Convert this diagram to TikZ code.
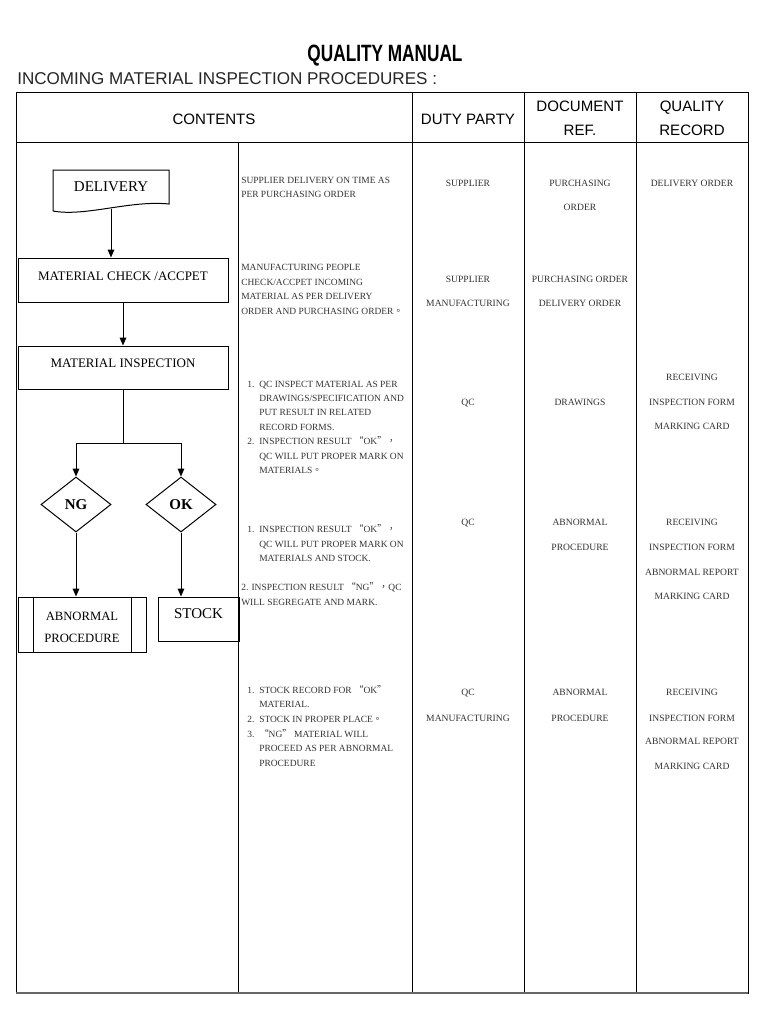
\documentclass[tikz,border=0pt]{standalone}
\usepackage{fontspec}
\setmainfont{Liberation Serif}
\newfontfamily\arial{Liberation Sans}
\newfontfamily\cjk{Noto Sans CJK TC}
\usetikzlibrary{shapes.geometric,arrows.meta}
\newcommand\numb[1]{\makebox[9pt][l]{#1}}
\begin{document}
\begin{tikzpicture}[x=0.75pt,y=-0.75pt,
  tline/.style={line width=0.75pt},
  hdr/.style={font=\arial\fontsize{11.3}{13}\selectfont, anchor=base, inner sep=0},
  desc/.style={font=\fontsize{7.1}{8}\selectfont, anchor=base west, inner sep=0, text=black!80},
  col/.style={font=\fontsize{7.2}{8}\selectfont, anchor=base, inner sep=0, text=black!80},
  fbox/.style={draw, line width=0.75pt, inner sep=0, font=\fontsize{9.75}{11}\selectfont},
  dia/.style={draw, diamond, line width=0.75pt, inner sep=0, minimum width=52.5pt, minimum height=41.25pt, font=\bfseries\fontsize{11.25}{12}\selectfont},
  arr/.style={line width=0.75pt, -{Triangle[length=6pt,width=5pt]}},
]
\useasboundingbox (0,0) rectangle (768,1024);
\fill[white] (0,0) rectangle (768,1024);

% titles
\node[anchor=base, inner sep=0, font=\arial\bfseries\fontsize{17.7}{20}\selectfont] (title) at (385,61.5) {\scalebox{0.73}[1]{QUALITY MANUAL}};
\node[anchor=base west, inner sep=0, font=\arial\fontsize{12.8}{14}\selectfont, text=black!85] (subtitle) at (17,84.5) {INCOMING MATERIAL INSPECTION PROCEDURES :};

% table
\draw[tline] (16,93) rectangle (748,993);
\draw[tline] (16,142) -- (748,142);
\draw[tline] (238,142) -- (238,993);
\foreach \x in {412,524,636} \draw[tline] (\x,93) -- (\x,993);
\draw[line width=1.5pt, black!60] (16,993) -- (748,993);

% header
\node[hdr] (hcont) at (214,124.4) {CONTENTS};
\node[hdr] (hduty) at (468,124.4) {DUTY PARTY};
\node[hdr] (hdoc1) at (580,111) {DOCUMENT};
\node[hdr] (hdoc2) at (580,135.8) {REF.};
\node[hdr] (hq1) at (692,111) {QUALITY};
\node[hdr] (hq2) at (692,135.8) {RECORD};

% flowchart
\node[inner sep=0, minimum width=87pt, minimum height=25.5pt, font=\fontsize{11.25}{12}\selectfont] (deliv) at (111,187) {DELIVERY};
\draw[tline] (53,211) -- (53,170) -- (169,170) -- (169,204) .. controls (130,200) and (85,217) .. (53,211);
\coordinate (delbot) at (111,208.5);

\node[fbox, minimum width=157.5pt, minimum height=33pt, text height=6.45pt, text depth=6.4pt] (check) at (123,280) {MATERIAL CHECK /ACCPET};
\node[fbox, minimum width=157.5pt, minimum height=32.25pt, text height=6.45pt, text depth=6.4pt] (insp) at (123,367.5) {MATERIAL INSPECTION};

\draw[arr] (delbot) -- (delbot |- check.north);
\draw[arr] (check) -- (insp);

\node[dia] (ng) at (76,504.5) {NG};
\node[dia] (ok) at (181,504.5) {OK};
\coordinate (split) at (123,443);
\draw[tline] (insp) -- (split);
\draw[arr] (split) -| (ng);
\draw[arr] (split) -| (ok);

\node[fbox, minimum width=96pt, minimum height=41.25pt] (abn) at (82,624.5) {};
\node[inner sep=0, align=center, font=\fontsize{9.5}{16.5}\selectfont] (abntxt) at (82,627.5) {ABNORMAL\\PROCEDURE};
\draw[tline] ([xshift=12pt]abn.north west) -- ([xshift=12pt]abn.south west);
\draw[tline] ([xshift=-11.25pt]abn.north east) -- ([xshift=-11.25pt]abn.south east);
\node[fbox, minimum width=60.75pt, minimum height=33pt, text height=7.45pt, text depth=7.5pt, font=\fontsize{11.25}{12}\selectfont] (stock) at (198.5,619) {STOCK};
\draw[arr] (ng) -- (ng |- abn.north);
\draw[arr] (ok) -- (ok |- stock.north);

% descriptions
\node[desc] (d1a) at (241,183) {SUPPLIER DELIVERY ON TIME AS};
\node[desc] (d1b) at (241,197) {PER PURCHASING ORDER};
\node[desc] (d2a) at (241,270) {MANUFACTURING PEOPLE};
\node[desc] (d2b) at (241,285) {CHECK/ACCPET INCOMING};
\node[desc] (d2c) at (241,299.5) {MATERIAL AS PER DELIVERY};
\node[desc] (d2d) at (241,314) {ORDER AND PURCHASING ORDER{\cjk 。}};

\node[desc] (d3a) at (247,387) {\numb{1.}QC INSPECT MATERIAL AS PER};
\node[desc] (d3b) at (259,401) {DRAWINGS/SPECIFICATION AND};
\node[desc] (d3c) at (259,415.5) {PUT RESULT IN RELATED};
\node[desc] (d3d) at (259,430) {RECORD FORMS.};
\node[desc] (d3e) at (247,444) {\numb{2.}INSPECTION RESULT {\cjk “}OK{\cjk ”}{\cjk ，}};
\node[desc] (d3f) at (259,459) {QC WILL PUT PROPER MARK ON};
\node[desc] (d3g) at (259,473) {MATERIALS{\cjk 。}};

\node[desc] (d4a) at (247,532) {\numb{1.}INSPECTION RESULT {\cjk “}OK{\cjk ”}{\cjk ，}};
\node[desc] (d4b) at (259,547) {QC WILL PUT PROPER MARK ON};
\node[desc] (d4c) at (259,561) {MATERIALS AND STOCK.};
\node[desc] (d4d) at (241,590) {2. INSPECTION RESULT {\cjk “}NG{\cjk ”}{\cjk ，}QC};
\node[desc] (d4e) at (241,605) {WILL SEGREGATE AND MARK.};

\node[desc] (d5a) at (247,693) {\numb{1.}STOCK RECORD FOR {\cjk “}OK{\cjk ”}};
\node[desc] (d5b) at (259,707) {MATERIAL.};
\node[desc] (d5c) at (247,722) {\numb{2.}STOCK IN PROPER PLACE{\cjk 。}};
\node[desc] (d5d) at (247,737) {\numb{3.}{\cjk “}NG{\cjk ”} MATERIAL WILL};
\node[desc] (d5e) at (259,751) {PROCEED AS PER ABNORMAL};
\node[desc] (d5f) at (259,766) {PROCEDURE};

% duty party
\node[col] (u1) at (468,186.2) {SUPPLIER};
\node[col] (u2) at (468,282.5) {SUPPLIER};
\node[col] (u3) at (468,306.2) {MANUFACTURING};
\node[col] (u4) at (468,405) {QC};
\node[col] (u5) at (468,525.2) {QC};
\node[col] (u6) at (468,695.2) {QC};
\node[col] (u7) at (468,721) {MANUFACTURING};

% document ref
\node[col] (r1) at (580,186.2) {PURCHASING};
\node[col] (r2) at (580,210) {ORDER};
\node[col] (r3) at (580,282.5) {PURCHASING ORDER};
\node[col] (r4) at (580,306.2) {DELIVERY ORDER};
\node[col] (r5) at (580,405) {DRAWINGS};
\node[col] (r6) at (580,525.2) {ABNORMAL};
\node[col] (r7) at (580,550.2) {PROCEDURE};
\node[col] (r8) at (580,695.2) {ABNORMAL};
\node[col] (r9) at (580,721) {PROCEDURE};

% quality record
\node[col] (q1) at (692,186.2) {DELIVERY ORDER};
\node[col] (q2) at (692,380.2) {RECEIVING};
\node[col] (q3) at (692,405) {INSPECTION FORM};
\node[col] (q4) at (692,429) {MARKING CARD};
\node[col] (q5) at (692,525.2) {RECEIVING};
\node[col] (q6) at (692,550.2) {INSPECTION FORM};
\node[col] (q7) at (692,575) {ABNORMAL REPORT};
\node[col] (q8) at (692,599.2) {MARKING CARD};
\node[col] (q9) at (692,695.2) {RECEIVING};
\node[col] (q10) at (692,721) {INSPECTION FORM};
\node[col] (q11) at (692,744.2) {ABNORMAL REPORT};
\node[col] (q12) at (692,769.2) {MARKING CARD};
\end{tikzpicture}
\end{document}
